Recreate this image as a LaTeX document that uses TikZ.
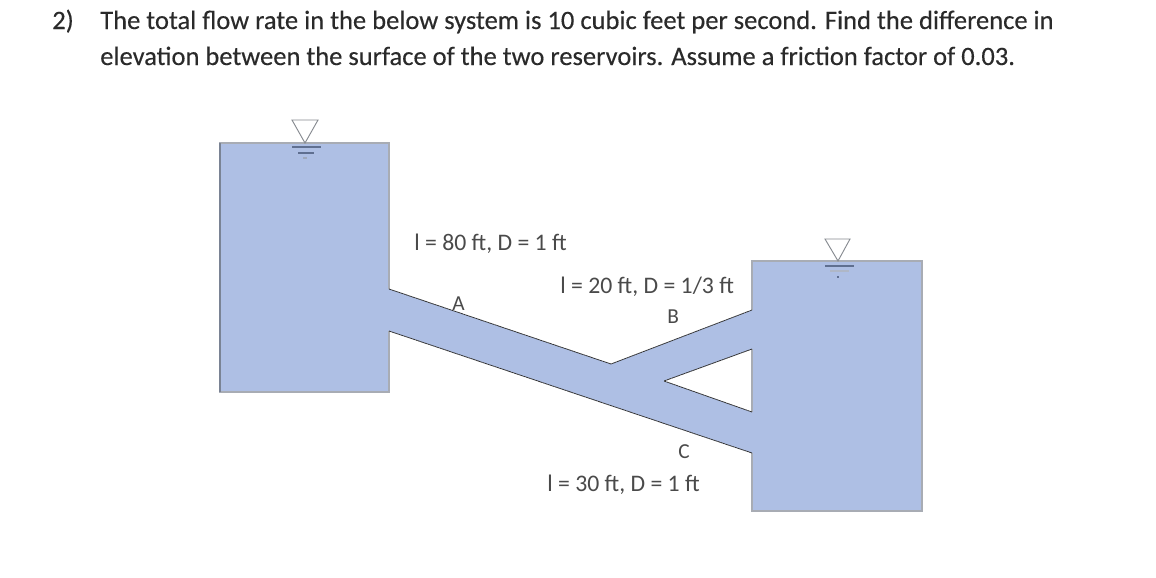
\documentclass[tikz,border=0pt]{standalone}
\usepackage{fontspec}
\setmainfont{Carlito}
\newfontfamily\titlefont[FakeBold=0.25]{Carlito}
\definecolor{water}{HTML}{AEBFE4}
\definecolor{wline}{HTML}{7A8394}
\definecolor{txt}{HTML}{2A2A2A}
\definecolor{gline}{HTML}{A8ACB4}
\definecolor{sline}{HTML}{5F6F90}
\tikzset{
  title/.style={anchor=base west,inner sep=0pt,text=txt,font=\titlefont\fontsize{19.9pt}{24pt}\selectfont},
  lab/.style={anchor=base west,inner sep=0pt,text=txt!85,font=\fontsize{17.8pt}{22pt}\selectfont},
  single/.style={anchor=base west,inner sep=0pt,text=txt!85,font=\fontsize{16pt}{19pt}\selectfont},
  pipeline/.style={draw=black!80,line width=0.6pt,dash pattern=on 1.6pt off 0.3pt},
  tankedge/.style={draw=gline,line width=0.8pt},
  surf/.style={draw=gline!80!black,line width=0.7pt},
  level/.style={draw=sline,line width=0.8pt},
}
\begin{document}
\begin{tikzpicture}[x=0.75pt,y=-0.75pt]
\useasboundingbox (0,0) rectangle (1156,578);
\fill[white] (0,0) rectangle (1156,578);
\node[title] (t0) at (52,29) {2)};
\node[title] (t1) at (100,29) {The total flow rate in the below system is 10 cubic feet per second. Find the difference in};
\node[title] (t2) at (100,65) {elevation between the surface of the two reservoirs. Assume a friction factor of 0.03.};
% water
\fill[water] (220,143) rectangle (389,392);
\fill[water] (752,261) rectangle (922,511);
\fill[water] (389,289) -- (611,364) -- (752,310) -- (752,349) -- (664,381) -- (752,412) -- (752,453) -- (389,331) -- cycle;
% tanks
\draw[tankedge] (389,289) -- (389,143) -- (220,143) -- (220,392) -- (389,392) -- (389,331);
\draw[wline,line width=0.8pt] (220,143) -- (220,392);
\draw[tankedge] (752,310) -- (752,261) -- (922,261) -- (922,511) -- (752,511) -- (752,453);
\draw[tankedge] (752,349) -- (752,412);
% pipes
\draw[pipeline] (389,289) -- (611,364) -- (752,310);
\draw[pipeline] (389,331) -- (752,453);
\draw[pipeline] (752,349) -- (664,381) -- (752,412);
% surface marks
\draw[surf] (292,120) -- (318,120) -- (305,143) -- cycle;
\draw[level] (292,147) -- (321,147);
\draw[level] (298,153) -- (314,153);
\draw[level,draw=sline!60] (303,158) -- (307,158);
\draw[surf] (825,239) -- (850,239) -- (838,261) -- cycle;
\draw[level,line width=1.2pt] (825,266) -- (854,266);
\draw[level,draw=sline!50] (830,271) -- (849,271);
\draw[level] (837,277) -- (839,277);
% labels
\node[lab] (la) at (414,250) {l = 80 ft, D = 1 ft};
\node[lab] (lb) at (560,293) {l = 20 ft, D = 1/3 ft};
\node[lab] (lc) at (547,491) {l = 30 ft, D = 1 ft};
\node[single] (a) at (452,310) {A};
\node[single] (b) at (667,323) {B};
\node[single] (c) at (678,458) {C};
\end{tikzpicture}
\end{document}
